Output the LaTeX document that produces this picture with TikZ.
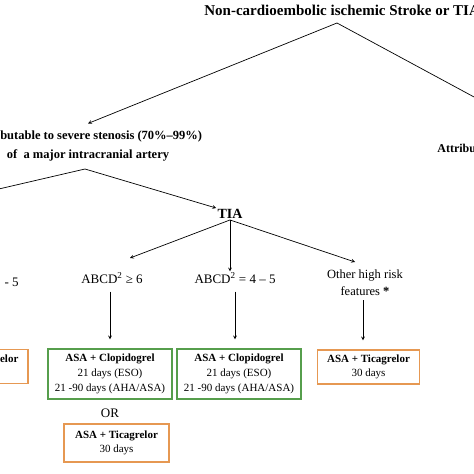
\documentclass[tikz,border=0pt]{standalone}
\usepackage{fontspec}
\setmainfont{Liberation Serif}
\usepackage{tikz}
\usetikzlibrary{positioning, arrows}
\definecolor{boxgreen}{RGB}{86,158,76}
\definecolor{boxorange}{RGB}{230,152,82}
\tikzstyle{gbox} = [draw=boxgreen, line width=1.3pt, align=center, font=\fontsize{11}{15}\selectfont, minimum width=124pt, minimum height=50pt, inner sep=1pt]
\tikzstyle{obox} = [draw=boxorange, line width=1.3pt, align=center, font=\fontsize{11}{14}\selectfont, minimum width=102pt, minimum height=34pt, inner sep=1pt]
\tikzstyle{lbl} = [font=\fontsize{13}{16}\selectfont, align=center, inner sep=1pt]
\tikzstyle{head} = [font=\bfseries\fontsize{15}{18}\selectfont, inner sep=1pt]
\tikzstyle{arrow} = [->,>=stealth]

\begin{document}
\begin{tikzpicture}[x=1pt, y=-1pt, node distance=1cm, line width=0.7pt]
    \useasboundingbox (0,0) rectangle (474,474);
    \clip (0,0) rectangle (474,474);

    % top of the tree
    \node[head, anchor=west] (start) at (203,10) {Non-cardioembolic ischemic Stroke or TIA};
    \coordinate (top) at (337,23);
    \node[font=\bfseries\fontsize{12.5}{19}\selectfont, align=center, inner sep=1pt] (sten) at (88,146) {Attributable to severe stenosis (70\%--99\%)\\of\ \ a major intracranial artery};
    \node[font=\bfseries\fontsize{12}{14}\selectfont, anchor=west, inner sep=0pt] (other) at (437,148) {Attributable};
    \coordinate (offr) at (500,111);
    \coordinate (stenb) at (85,169);
    \coordinate (offl) at (-40,198);

    \node[head, font=\bfseries\fontsize{14}{16}\selectfont] (tia) at (230,214) {TIA};
    \coordinate (t1) at (130,258);
    \coordinate (t3) at (355,262);

    % risk groups
    \node[lbl, anchor=east] (lft) at (20,282) {- 5};
    \node[lbl] (abcd6) at (112,278) {ABCD\textsuperscript{2} ≥ 6};
    \node[lbl] (abcd45) at (235,278) {ABCD\textsuperscript{2} = 4 -- 5};
    \node[lbl, font=\fontsize{12.5}{17}\selectfont] (risk) at (365,283) {Other high risk\\features \textbf{*}};
    \coordinate (riskx) at (363,300);

    % treatment boxes
    \node[obox] (tic0) at (-23,366.5) {\textbf{ASA + Ticagrelor}\\30 days};
    \node[gbox] (clop1) at (110,374) {\textbf{ASA + Clopidogrel}\\21 days (ESO)\\21 -90 days (AHA/ASA)};
    \node[lbl, below=of clop1, yshift=0.73cm] (or) {OR};
    \node[obox, minimum width=105pt, minimum height=38pt] (tic1) at (116.5,443) {\textbf{ASA + Ticagrelor}\\30 days};
    \node[gbox] (clop2) at (239,374) {\textbf{ASA + Clopidogrel}\\21 days (ESO)\\21 -90 days (AHA/ASA)};
    \node[obox] (tic2) at (368.5,367) {\textbf{ASA + Ticagrelor}\\30 days};

    \draw[arrow] (top) -- ([yshift=6pt]sten.north);
    \draw (top) -- (offr);
    \draw (stenb) -- (offl);
    \draw[arrow] (stenb) -- (tia.north west);

    \draw[arrow] (tia.south) -- (t1);
    \draw[arrow] (tia.south) -- (tia.south |- abcd45.north);
    \draw[arrow] (tia.south) -- (t3);

    \draw[arrow, shorten <=7pt, shorten >=9pt] (clop1.north |- abcd6.south) -- (clop1.north);
    \draw[arrow, shorten <=7pt, shorten >=9pt] (abcd45.south) -- (abcd45.south |- clop2.north);
    \draw[arrow, shorten >=9pt] (riskx) -- (riskx |- tic2.north);

\end{tikzpicture}
\end{document}
